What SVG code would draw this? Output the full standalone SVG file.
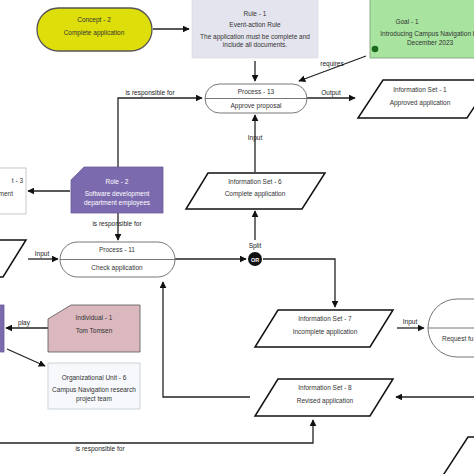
<svg xmlns="http://www.w3.org/2000/svg" width="474" height="474" viewBox="0 0 474 474">
<defs>
<marker id="ah" viewBox="0 0 10 10" refX="9" refY="5" markerWidth="7" markerHeight="7" markerUnits="userSpaceOnUse" orient="auto">
<path d="M0,0 L10,5 L0,10 z" fill="#111"/>
</marker>
<style>
text{font-family:"Liberation Sans",Arial,sans-serif;font-size:6.5px;fill:#333;text-anchor:middle}
.lbl{font-size:6.5px;fill:#222}
.wt{fill:#fff}
.c{fill:none;stroke:#222;stroke-width:1.3}
.ca{fill:none;stroke:#222;stroke-width:1.3;marker-end:url(#ah)}
.proc{fill:#fff;stroke:#777;stroke-width:1}
.info{fill:#fff;stroke:#111;stroke-width:1.5}
</style>
</defs>
<rect width="474" height="474" fill="#fff"/>

<g id="connectors">
<line class="ca" x1="153" y1="29" x2="189" y2="29"/>
<line class="ca" x1="255" y1="61" x2="255" y2="81"/>
<line class="ca" x1="366" y1="56" x2="299" y2="81"/>
<text class="lbl" x="332" y="66">requires</text>
<polyline class="ca" points="118,167 118,98 202,98"/>
<text class="lbl" x="150" y="95">is responsible for</text>
<line class="ca" x1="307" y1="98" x2="355" y2="98"/>
<text class="lbl" x="331" y="95">Output</text>
<line class="ca" x1="255" y1="172" x2="255" y2="115"/>
<text class="lbl" x="255" y="140">Input</text>
<line class="ca" x1="255" y1="240" x2="255" y2="211"/>
<text class="lbl" x="255" y="248">Split</text>
<line class="ca" x1="118" y1="213" x2="118" y2="240"/>
<text class="lbl" x="117" y="226">is responsible for</text>
<line class="ca" x1="70" y1="191" x2="28" y2="191"/>
<line class="ca" x1="28" y1="259" x2="58" y2="259"/>
<text class="lbl" x="42" y="256">Input</text>
<line class="ca" x1="175" y1="259" x2="246" y2="259"/>
<polyline class="ca" points="263,259 335,259 335,307"/>
<line class="ca" x1="397" y1="328" x2="424" y2="328"/>
<text class="lbl" x="410" y="324">Input</text>
<line class="ca" x1="48" y1="328" x2="6" y2="328"/>
<text class="lbl" x="24" y="325">play</text>
<line class="ca" x1="7" y1="349" x2="45" y2="366"/>
<polyline class="ca" points="250,397 163,397 163,282"/>
<line class="ca" x1="474" y1="397" x2="396" y2="397"/>
<polyline class="ca" points="0,443 313,443 313,420"/>
<text class="lbl" x="100" y="451">is responsible for</text>
</g>

<g id="concept-2">
<rect x="37" y="8" width="115" height="43" rx="21.5" fill="#dede0a" stroke="#555" stroke-width="1.3"/>
<text x="94" y="22">Concept - 2</text>
<text x="94" y="35">Complete application</text>
</g>

<g id="rule-1">
<rect x="192" y="-2" width="126" height="60" fill="#e4e4ee" stroke="#d8d8e2" stroke-width="0.6"/>
<text x="255" y="16">Rule - 1</text>
<text x="255" y="27">Event-action Rule</text>
<text x="255" y="39">The application must be complete and</text>
<text x="255" y="47">include all documents.</text>
</g>

<g id="goal-1">
<rect x="370" y="-2" width="110" height="60" fill="#a8e4a0" stroke="#7a9a78" stroke-width="0.8"/>
<text x="407" y="24">Goal - 1</text>
<text x="430" y="36">Introducing Campus Navigation by</text>
<text x="430" y="45">December 2023</text>
<circle cx="375" cy="49" r="3.3" fill="#1a6a1a"/>
</g>

<g id="process-13">
<rect class="proc" x="205" y="84" width="102" height="29" rx="14.5"/>
<line x1="205" y1="98.5" x2="307" y2="98.5" stroke="#777" stroke-width="1"/>
<text x="256" y="94">Process - 13</text>
<text x="256" y="108">Approve proposal</text>
</g>

<g id="information-set-1">
<polygon class="info" points="383,80 492,80 467,118 358,118"/>
<text x="420" y="92">Information Set - 1</text>
<text x="420" y="105">Approved application</text>
</g>

<g id="information-set-6">
<polygon class="info" points="208,173 325,173 302,209 186,209"/>
<text x="255" y="184">Information Set - 6</text>
<text x="255" y="196">Complete application</text>
</g>

<g id="role-2">
<polygon points="84,167 163,167 163,213 71,213 71,180" fill="#7c6aae" stroke="#6a5a9a" stroke-width="0.8"/>
<text class="wt" x="117" y="184">Role - 2</text>
<text class="wt" x="117" y="196">Software development</text>
<text class="wt" x="117" y="205">department employees</text>
</g>

<g id="left-box-3">
<rect x="-5" y="168" width="31" height="46" fill="#fff" stroke="#bbb" stroke-width="0.8"/>
<text x="23" y="183" style="text-anchor:end">t - 3</text>
<text x="13" y="196" style="text-anchor:end">ment</text>
</g>

<g id="left-information-set">
<polygon class="info" points="-20,240 26,240 3,277 -40,277"/>
</g>

<g id="process-11">
<rect class="proc" x="60" y="242" width="115" height="35" rx="17.5"/>
<line x1="60" y1="259.5" x2="175" y2="259.5" stroke="#777" stroke-width="1"/>
<text x="117" y="252">Process - 11</text>
<text x="117" y="270">Check application</text>
</g>

<g id="or-split">
<circle cx="255" cy="259" r="7" fill="#111"/>
<text class="wt" x="255" y="261.5" style="font-size:5.5px;font-weight:bold">OR</text>
</g>

<g id="information-set-7">
<polygon class="info" points="278,310 393,310 370,347 255,347"/>
<text x="325" y="321">Information Set - 7</text>
<text x="325" y="334">Incomplete application</text>
</g>

<g id="request-process">
<rect class="proc" x="428" y="299" width="90" height="58" rx="29"/>
<line x1="428" y1="328" x2="474" y2="328" stroke="#777" stroke-width="1"/>
<text x="442" y="341" style="text-anchor:start">Request fu</text>
</g>

<g id="left-purple-box">
<rect x="-10" y="305" width="14" height="47" fill="#7c6aae" stroke="#6a5a9a" stroke-width="0.8"/>
</g>

<g id="individual-1">
<polygon points="71,305 140,305 140,352 48,352 48,319" fill="#dbb8be" stroke="#555" stroke-width="0.8"/>
<text x="94" y="320">Individual - 1</text>
<text x="94" y="333">Tom Tomsen</text>
</g>

<g id="organizational-unit-6">
<rect x="48" y="363" width="92" height="46" fill="#f6f8fb" stroke="#c2cad2" stroke-width="0.8"/>
<text x="94" y="380">Organizational Unit - 6</text>
<text x="94" y="392">Campus Navigation research</text>
<text x="94" y="401">project team</text>
</g>

<g id="information-set-8">
<polygon class="info" points="278,379 393,379 370,416 255,416"/>
<text x="325" y="390">Information Set - 8</text>
<text x="325" y="403">Revised application</text>
</g>

<g id="bottom-right-information-set">
<polygon class="info" points="468,437 520,437 495,480 440,480"/>
</g>
</svg>
